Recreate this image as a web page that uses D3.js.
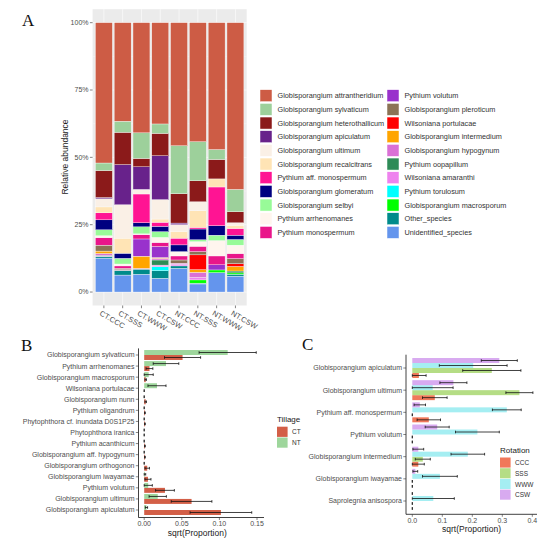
<!DOCTYPE html>
<meta charset="utf-8">
<head>
<script src="https://cdn.jsdelivr.net/npm/d3@7"></script>
<style>
  body { margin: 0; background: #fff; }
  text { font-family: "Liberation Sans", Arial, sans-serif; }
  .panel-label { font-family: "Liberation Serif", "Times New Roman", serif; font-size: 17px; fill: #111; }
  .tick-lab { font-size: 7px; fill: #4d4d4d; }
  .axis-title { font-size: 8.5px; fill: #222; }
  .leg-text { font-size: 7.3px; fill: #333; }
</style>
</head>
<body>
<div id="chart"></div>
<script>
// ---------- panel A : relative abundance ----------
var samples = ["CT.CCC", "CT.SSS", "CT.WWW", "CT.CSW", "NT.CCC", "NT.SSS", "NT.WWW", "NT.CSW"];
var species = ["Globisporangium attrantheridium", "Globisporangium sylvaticum", "Globisporangium heterothallicum",
  "Globisporangium apiculatum", "Globisporangium ultimum", "Globisporangium recalcitrans", "Pythium aff. monospermum",
  "Globisporangium glomeratum", "Globisporangium selbyi", "Pythium arrhenomanes", "Pythium monospermum",
  "Pythium volutum", "Globisporangium pleroticum", "Wilsoniana portulacae", "Globisporangium intermedium",
  "Globisporangium hypogynum", "Pythium oopapillum", "Wilsoniana amaranthi", "Pythium torulosum",
  "Globisporangium macrosporum", "Other_species", "Unidentified_species"];
var speciesColors = ["#CD5C45", "#9DD09B", "#8B1A1A", "#68228B", "#FAF0E6", "#FFE4B5", "#FF1493",
  "#000080", "#98FB98", "#FFF5EE", "#E9168A", "#9932CC", "#8B7355", "#FF0000", "#FFA500",
  "#DA70D6", "#2E8B57", "#EE82EE", "#00FFFF", "#00FF00", "#008B8B", "#6495ED"];

// percent per sample, same order as species
var ctCCC = [52.1, 2.8, 10.0, 0.5, 3.0, 2.2, 2.6, 3.7, 2.2, 0.7, 2.8, 0, 2.2, 0, 0.9, 0.7, 0.3, 0.2, 0, 0, 0.5, 12.6];
var ctSSS = [36.6, 4.1, 12.0, 14.9, 12.4, 5.6, 0, 1.9, 2.1, 0.7, 0.9, 0, 0.5, 0, 0, 0.2, 0.2, 0, 0, 0, 1.6, 6.3];
var ctWWW = [40.9, 9.5, 3.1, 8.4, 1.7, 0, 10.7, 1.5, 2.6, 0.3, 1.6, 6.4, 0, 0, 4.5, 0.3, 0, 0, 0, 0, 1.9, 6.6];
var ctCSW = [37.6, 3.5, 8.3, 16.3, 7.2, 1.2, 1.5, 2.0, 2.1, 1.9, 1.5, 4.1, 0, 0, 0.3, 0.6, 1.9, 0.6, 1.5, 0, 2.8, 5.1];
var ntCCC = [45.7, 17.8, 10.9, 0.6, 2.5, 2.5, 2.5, 2.5, 0, 1.6, 1.5, 0, 1.2, 0, 0, 0.5, 0, 0.5, 0, 0, 0.9, 8.8];
var ntSSS = [44.2, 14.5, 7.8, 0, 3.3, 6.2, 0.6, 4.0, 0.7, 1.7, 2.0, 0, 1.2, 5.5, 1.0, 1.9, 0, 0.9, 0, 1.2, 0.3, 3.0];
var ntWWW = [47.1, 3.7, 7.2, 0, 0, 3.0, 14.4, 3.5, 2.0, 5.7, 3.3, 1.9, 0, 0, 0, 0, 0, 0, 0, 1.0, 0, 7.2];
var ntCSW = [61.9, 8.3, 4.1, 0, 0.9, 1.2, 2.5, 1.6, 2.1, 3.1, 1.9, 0, 1.9, 1.0, 1.7, 0, 0.7, 0, 0, 0.5, 0.7, 5.9];
var abundance = [ctCCC, ctSSS, ctWWW, ctCSW, ntCCC, ntSSS, ntWWW, ntCSW];
var pctTicks = [0, 25, 50, 75, 100];

// ---------- panel B : tillage ----------
var tillSpecies = ["Globisporangium sylvaticum", "Pythium arrhenomanes", "Globisporangium macrosporum",
  "Wilsoniana portulacae", "Globisporangium nunn", "Pythium oligandrum", "Phytophthora cf. inundata D0S1P25",
  "Phytophthora iranica", "Pythium acanthicum", "Globisporangium aff. hypogynum", "Globisporangium orthogonon",
  "Globisporangium iwayamae", "Pythium volutum", "Globisporangium ultimum", "Globisporangium apiculatum"];
var tillage = ["CT", "NT"];
var tillColors = ["#D35F47", "#9ED69C"];
var ctMean = [0.051, 0.007, 0.002, 0, 0.002, 0.001, 0.001, 0, 0.001, 0.001, 0.004, 0.005, 0.0276, 0.063, 0.102];
var ctErr  = [0.024, 0.0045, 0.001, 0, 0.001, 0.0005, 0.0005, 0, 0.0005, 0.0005, 0.003, 0.004, 0.0125, 0.027, 0.041];
var ntMean = [0.111, 0.029, 0.006, 0.017, 0, 0, 0, 0, 0, 0, 0, 0.001, 0.0053, 0.018, 0.003];
var ntErr  = [0.038, 0.017, 0.006, 0.012, 0, 0, 0, 0, 0, 0, 0, 0.001, 0.0055, 0.0115, 0.0015];
var tillTicks = [0, 0.05, 0.10, 0.15];

// ---------- panel C : rotation ----------
var rotSpecies = ["Globisporangium apiculatum", "Globisporangium ultimum", "Pythium aff. monospermum",
  "Pythium volutum", "Globisporangium intermedium", "Globisporangium iwayamae", "Saprolegnia anisospora"];
var rotations = ["CCC", "SSS", "WWW", "CSW"];
var rotColors = ["#F0785A", "#B5DD85", "#A5EEF2", "#D8AAF0"];
var cccMean = [0.022, 0.075, 0.055, 0, 0.020, 0, 0];
var cccErr  = [0.024, 0.041, 0.039, 0, 0.020, 0, 0];
var sssMean = [0.265, 0.357, 0, 0, 0.035, 0, 0];
var sssErr  = [0.097, 0.045, 0, 0, 0.025, 0, 0];
var wwwMean = [0.203, 0.068, 0.315, 0.217, 0.185, 0.092, 0.070];
var wwwErr  = [0.113, 0.068, 0.048, 0.073, 0.056, 0.058, 0.070];
var cswMean = [0.290, 0.137, 0.025, 0.083, 0.020, 0.010, 0];
var cswErr  = [0.060, 0.045, 0.019, 0.040, 0.018, 0.008, 0];
var rotTicks = [0, 0.1, 0.2, 0.3, 0.4];

var svg = d3.select("#chart").append("svg")
    .attr("width", 550)
    .attr("height", 543);

// ================= A =================
var xA = d3.scalePoint().domain(samples).range([92.6, 246.7]).padding(0.6);
var yA = d3.scaleLinear().domain([-5, 105]).range([305.5, 9.2]);
var barW = xA.step() * 0.9;

var gA = svg.append("g");
gA.append("rect").attr("x", 92.6).attr("y", 9.2).attr("width", 246.7 - 92.6).attr("height", 305.5 - 9.2)
  .attr("fill", "#EBEBEB");
[12.5, 37.5, 62.5, 87.5].forEach(function (v) {
  gA.append("line").attr("x1", 92.6).attr("x2", 246.7).attr("y1", yA(v)).attr("y2", yA(v))
    .attr("stroke", "#fff").attr("stroke-width", 0.3);
});
pctTicks.forEach(function (v) {
  gA.append("line").attr("x1", 92.6).attr("x2", 246.7).attr("y1", yA(v)).attr("y2", yA(v))
    .attr("stroke", "#fff").attr("stroke-width", 0.6);
});
samples.forEach(function (s) {
  gA.append("line").attr("x1", xA(s)).attr("x2", xA(s)).attr("y1", 9.2).attr("y2", 305.5)
    .attr("stroke", "#fff").attr("stroke-width", 0.6);
});

var table = samples.map(function (s, i) {
  var row = { sample: s };
  species.forEach(function (sp, j) { row[sp] = abundance[i][j]; });
  return row;
});
var layers = d3.stack().keys(species.slice().reverse())(table);
var colorA = d3.scaleOrdinal().domain(species).range(speciesColors);

gA.selectAll("g.layer").data(layers).enter().append("g")
    .attr("class", "layer")
    .attr("fill", function (d) { return colorA(d.key); })
  .selectAll("rect").data(function (d) { return d; }).enter().append("rect")
    .attr("x", function (d) { return xA(d.data.sample) - barW / 2; })
    .attr("width", barW)
    .attr("y", function (d) { return yA(d[1]); })
    .attr("height", function (d) { return Math.max(0, yA(d[0]) - yA(d[1])); })
    .attr("stroke", "#fff")
    .attr("stroke-width", function (d) { return d[1] - d[0] > 0 ? 0.35 : 0; });

pctTicks.forEach(function (v) {
  gA.append("line").attr("x1", 89.9).attr("x2", 92.6).attr("y1", yA(v)).attr("y2", yA(v))
    .attr("stroke", "#333").attr("stroke-width", 0.6);
  gA.append("text").attr("class", "tick-lab").attr("x", 88.5).attr("y", yA(v)).attr("dy", "0.35em")
    .attr("text-anchor", "end").text(v + "%");
});
samples.forEach(function (s) {
  gA.append("line").attr("x1", xA(s)).attr("x2", xA(s)).attr("y1", 305.5).attr("y2", 308.2)
    .attr("stroke", "#333").attr("stroke-width", 0.6);
  gA.append("text").attr("class", "tick-lab")
    .attr("transform", "translate(" + (xA(s) - 2) + ",310) rotate(30)")
    .attr("dy", "0.75em").attr("text-anchor", "start")
    .style("font-size", "7.5px").text(s);
});
gA.append("text").attr("class", "axis-title")
  .attr("transform", "translate(68,157) rotate(-90)")
  .attr("text-anchor", "middle").text("Relative abundance");
svg.append("text").attr("class", "panel-label").attr("x", 22).attr("y", 26).text("A");

// legend A
species.forEach(function (sp, i) {
  var col = i < 11 ? 0 : 1, r = i % 11;
  var kx = col === 0 ? 260 : 387, ky = 95.7 + r * 13.67;
  svg.append("rect").attr("x", kx).attr("y", ky - 6).attr("width", 12).attr("height", 12)
    .attr("fill", speciesColors[i]).attr("stroke", "#fff").attr("stroke-width", 0.5);
  svg.append("text").attr("class", "leg-text").attr("x", kx + 17.5).attr("y", ky).attr("dy", "0.35em")
    .text(sp);
});

// ================= helper for dodged bar charts =================
function dodgedBars(opt) {
  var g = svg.append("g");
  var x = d3.scaleLinear().domain([0, opt.tickMax]).range([opt.x0, opt.xMax]);
  var y = d3.scalePoint().domain(opt.cats).range([opt.yTop, opt.yBot]);
  var band = y.step() * 0.9, bh = band / opt.groups.length;

  opt.groups.forEach(function (grp, gi) {
    var means = opt.means[gi], errs = opt.errs[gi];
    opt.cats.forEach(function (c, ci) {
      // first group sits at the bottom of the dodge
      var yb = y(c) + band / 2 - (gi + 1) * bh;
      var m = means[ci], e = errs[ci];
      if (m > 0) {
        g.append("rect").attr("x", x(0)).attr("y", yb).attr("width", x(m) - x(0)).attr("height", bh)
          .attr("fill", opt.colors[gi]);
      }
      var yc = yb + bh / 2, lo = Math.max(0, m - e), hi = m + e;
      g.append("line").attr("x1", x(lo)).attr("x2", x(hi)).attr("y1", yc).attr("y2", yc)
        .attr("stroke", "#111").attr("stroke-width", 0.8);
      [lo, hi].forEach(function (v) {
        g.append("line").attr("x1", x(v)).attr("x2", x(v)).attr("y1", yc - 1.3).attr("y2", yc + 1.3)
          .attr("stroke", "#111").attr("stroke-width", 0.8);
      });
    });
  });

  // axes (classic theme)
  g.append("line").attr("x1", opt.axisX).attr("x2", opt.axisX).attr("y1", opt.axisTop).attr("y2", opt.axisBot)
    .attr("stroke", "#111").attr("stroke-width", 0.8);
  g.append("line").attr("x1", opt.axisX).attr("x2", opt.axisRight).attr("y1", opt.axisBot).attr("y2", opt.axisBot)
    .attr("stroke", "#111").attr("stroke-width", 0.8);
  opt.cats.forEach(function (c) {
    g.append("line").attr("x1", opt.axisX - 2.7).attr("x2", opt.axisX).attr("y1", y(c)).attr("y2", y(c))
      .attr("stroke", "#333").attr("stroke-width", 0.6);
    g.append("text").attr("class", "tick-lab").attr("x", opt.axisX - 4).attr("y", y(c)).attr("dy", "0.35em")
      .attr("text-anchor", "end").text(c);
  });
  opt.ticks.forEach(function (v) {
    g.append("line").attr("x1", x(v)).attr("x2", x(v)).attr("y1", opt.axisBot).attr("y2", opt.axisBot + 2.5)
      .attr("stroke", "#333").attr("stroke-width", 0.6);
    g.append("text").attr("class", "tick-lab").attr("x", x(v)).attr("y", opt.axisBot + 8.6)
      .attr("text-anchor", "middle").text(opt.fmt(v));
  });
  g.append("text").attr("class", "axis-title").attr("x", (opt.axisX + opt.axisRight) / 2 + opt.titleShift)
    .attr("y", opt.axisBot + 18).attr("text-anchor", "middle").text("sqrt(Proportion)");

  // legend
  var lg = svg.append("g");
  lg.append("text").attr("x", opt.legX).attr("y", opt.legTitleY).attr("dy", "0.35em")
    .style("font-size", "8px").attr("fill", "#222").text(opt.legTitle);
  opt.groups.forEach(function (grp, gi) {
    var ky = opt.legKeyY + gi * opt.legStep;
    lg.append("rect").attr("x", opt.legX).attr("y", ky).attr("width", 10.6).attr("height", opt.legStep - 0.6)
      .attr("fill", opt.colors[gi]);
    lg.append("text").attr("x", opt.legX + 15).attr("y", ky + opt.legStep / 2).attr("dy", "0.35em")
      .style("font-size", "6.5px").attr("fill", "#333").text(grp);
  });
}

// ================= B =================
dodgedBars({
  cats: tillSpecies, groups: tillage, colors: tillColors,
  means: [ctMean, ntMean], errs: [ctErr, ntErr],
  tickMax: 0.15, x0: 144.2, xMax: 257, yTop: 355, yBot: 510,
  axisX: 138.5, axisTop: 348.4, axisBot: 517.5, axisRight: 264,
  ticks: tillTicks, fmt: d3.format(".2f"), titleShift: -4,
  legTitle: "Tillage", legX: 277, legTitleY: 419, legKeyY: 426.7, legStep: 10.8
});
svg.append("text").attr("class", "panel-label").attr("x", 21).attr("y", 351).text("B");

// ================= C =================
dodgedBars({
  cats: rotSpecies, groups: rotations, colors: rotColors,
  means: [cccMean, sssMean, wwwMean, cswMean], errs: [cccErr, sssErr, wwwErr, cswErr],
  tickMax: 0.4, x0: 412.3, xMax: 532.3, yTop: 368, yBot: 501,
  axisX: 406, axisTop: 354.7, axisBot: 514.3, axisRight: 537,
  ticks: rotTicks, fmt: d3.format(".1f"), titleShift: 0,
  legTitle: "Rotation", legX: 500, legTitleY: 450, legKeyY: 457.5, legStep: 10.7
});
svg.append("text").attr("class", "panel-label").attr("x", 302).attr("y", 350).text("C");
</script>
</body>
</html>
